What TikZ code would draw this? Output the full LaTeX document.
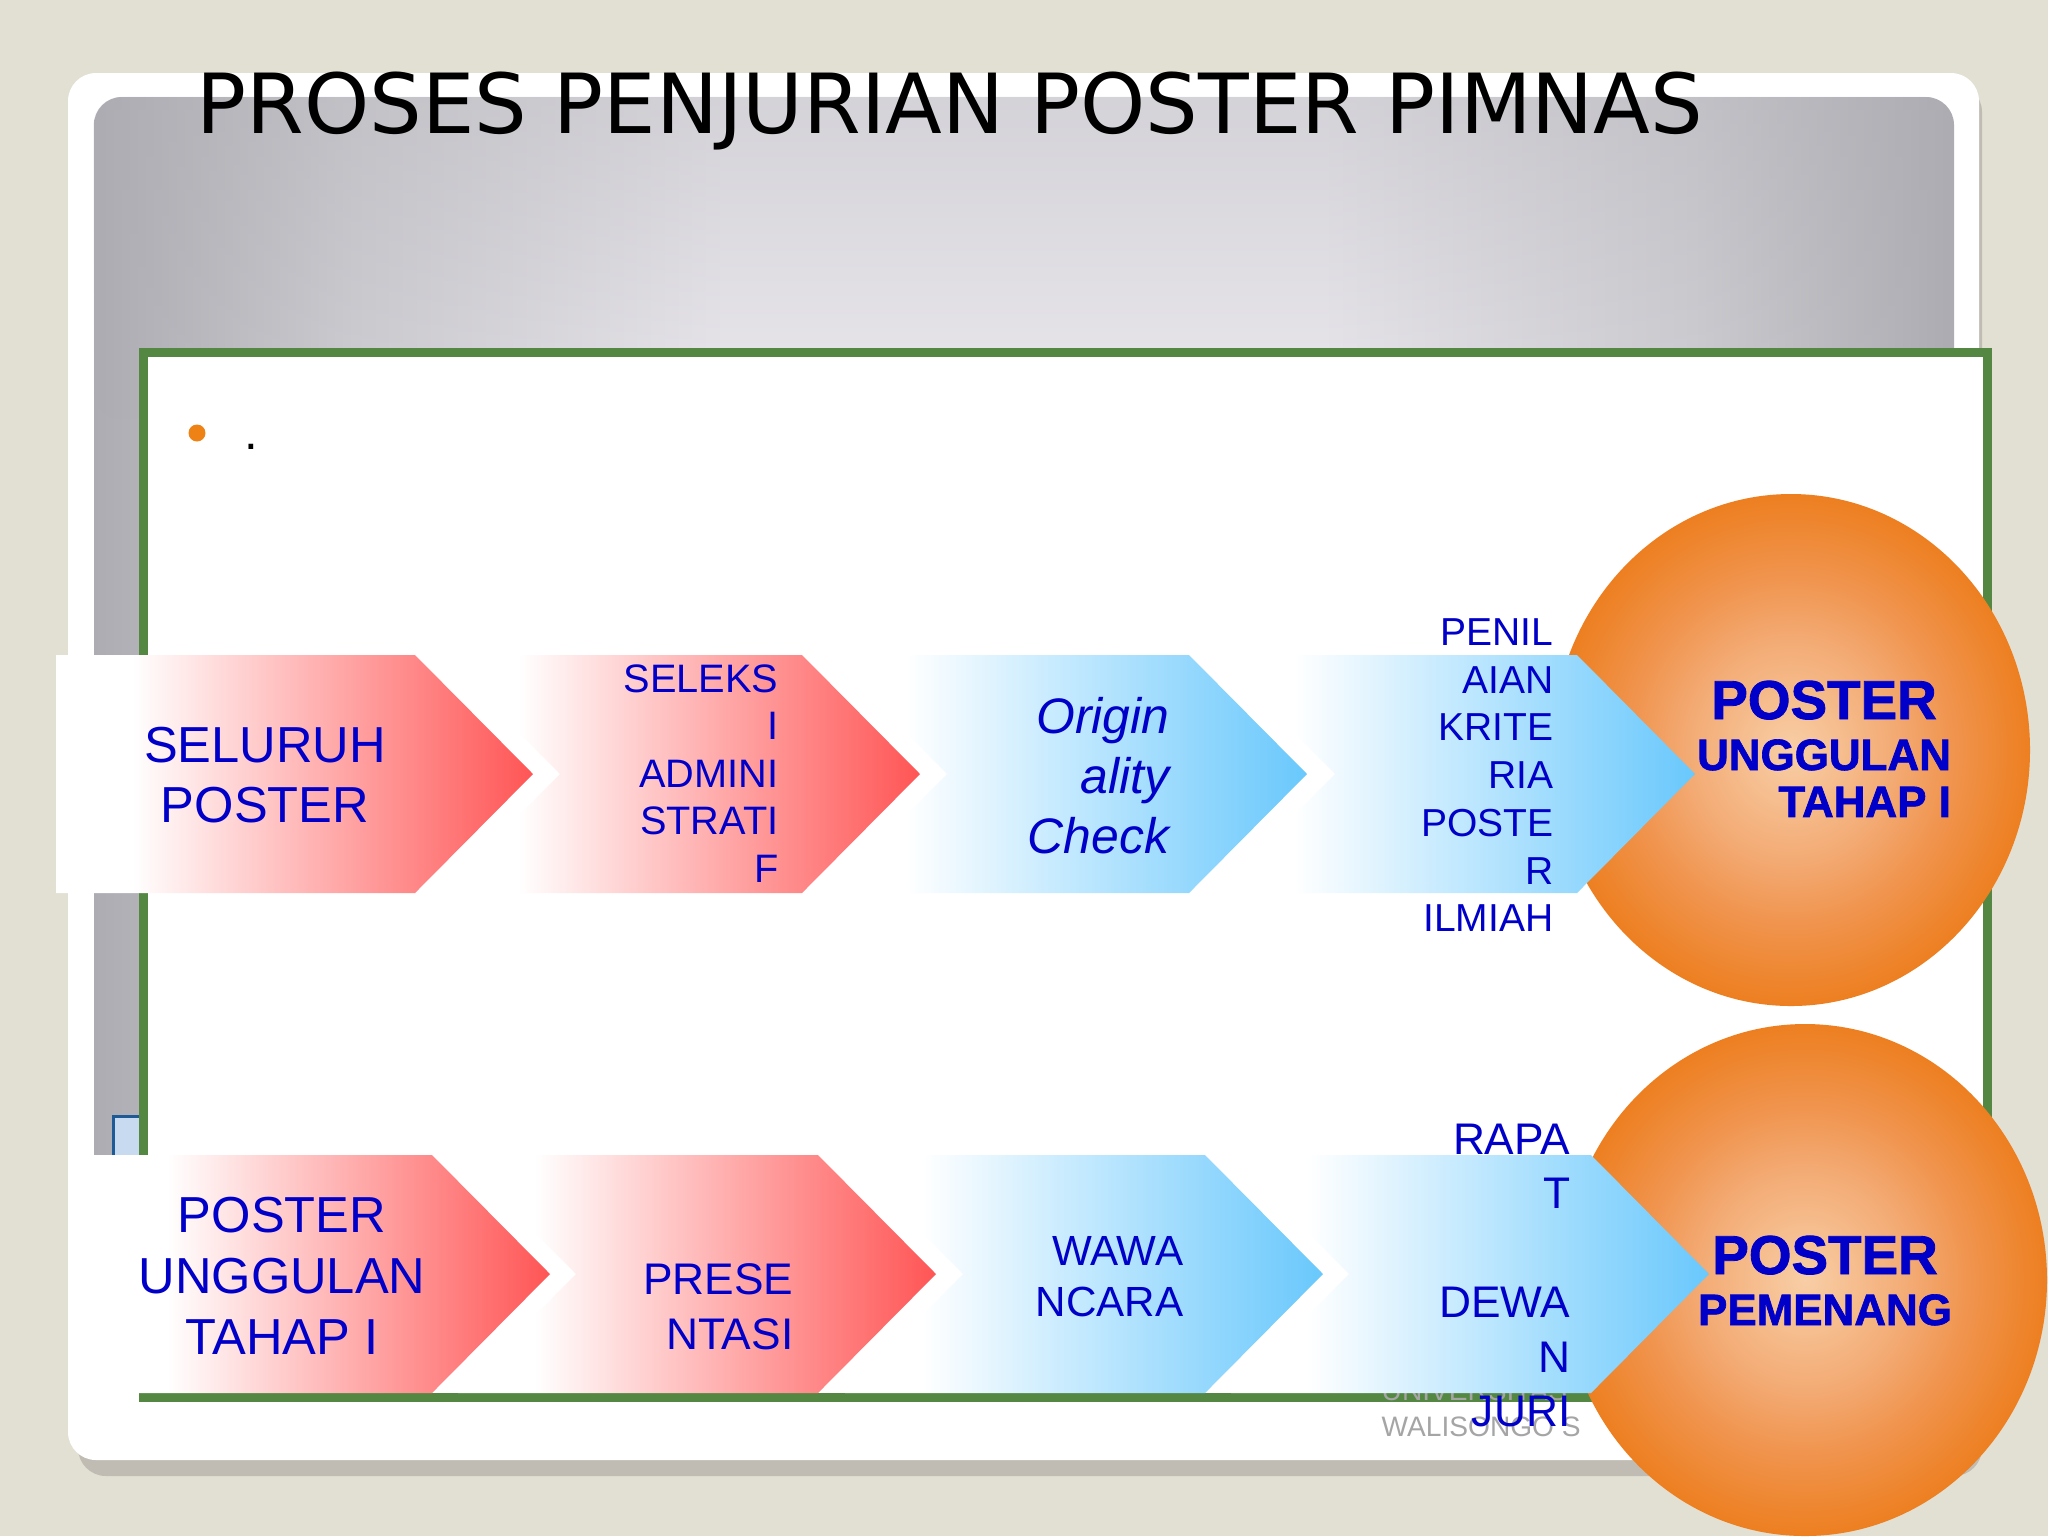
\documentclass[tikz,border=0pt]{standalone}
\usepackage{fontspec}
\setmainfont{Liberation Sans}
\newfontfamily\titlefont{DejaVu Sans}
\newfontfamily\heavyfont[FakeBold=1.5]{Liberation Sans Bold}
\usetikzlibrary{shapes.geometric,fadings}

\definecolor{slidebg}{RGB}{226,223,211}
\definecolor{shadowgray}{RGB}{192,188,179}
\definecolor{paneldark}{RGB}{172,172,178}
\definecolor{panelmid}{RGB}{206,205,210}
\definecolor{panellight}{RGB}{234,232,237}
\definecolor{framegreen}{RGB}{84,136,66}
\definecolor{bulletorange}{RGB}{238,130,20}
\definecolor{chevred}{RGB}{255,85,85}
\definecolor{chevblue}{RGB}{105,200,252}
\definecolor{txtblue}{RGB}{0,0,200}
\definecolor{orbcore}{RGB}{248,206,166}
\definecolor{orbmid}{RGB}{243,170,115}
\definecolor{orbring}{RGB}{240,148,78}
\definecolor{orbedge}{RGB}{237,127,32}
\definecolor{boxblue}{RGB}{200,218,240}
\definecolor{boxedge}{RGB}{30,90,150}
\definecolor{markgray}{RGB}{165,165,165}

\pgfdeclarehorizontalshading{redfade}{100bp}{color(0bp)=(white); color(33bp)=(white); color(75bp)=(chevred); color(100bp)=(chevred)}
\pgfdeclarehorizontalshading{bluefade}{100bp}{color(0bp)=(white); color(33bp)=(white); color(75bp)=(chevblue); color(100bp)=(chevblue)}
\pgfdeclarehorizontalshading{panelshade}{100bp}{color(0bp)=(paneldark); color(25bp)=(paneldark); color(32bp)=(panelmid); color(42bp)=(panellight); color(58bp)=(panellight); color(68bp)=(panelmid); color(75bp)=(paneldark); color(100bp)=(paneldark)}
\pgfdeclareradialshading{orbshade}{\pgfpoint{0bp}{0bp}}{color(0bp)=(orbcore); color(11bp)=(orbmid); color(17bp)=(orbring); color(25bp)=(orbedge); color(50bp)=(orbedge)}
\tikzfading[name=panelfade, top color=transparent!0, bottom color=transparent!100]

\begin{document}
\begin{tikzpicture}[
  x=0.1mm, y=-0.1mm,
  lbl/.style={text=txtblue, inner sep=0pt},
  orb/.style={ellipse, shade, shading=orbshade, inner sep=0pt},
  orbtext/.style={text=txtblue, inner sep=0pt, align=center, font=\heavyfont\fontsize{12.5}{13.37}\selectfont}
]
\useasboundingbox (0,0) rectangle (2048,1536);
\clip (0,0) rectangle (2048,1536);

% slide
\fill[slidebg] (0,0) rectangle (2048,1536);
\fill[shadowgray, rounded corners=2.8mm] (78,84) rectangle (1982,1476);
\fill[white, rounded corners=2.8mm] (68,73) rectangle (1979,1460);
\shade[shading=panelshade, rounded corners=2.8mm] (94,97) rectangle (1954,1380);
\fill[paneldark, fill opacity=0.35, path fading=panelfade, rounded corners=2.8mm] (94,97) rectangle (1954,420);
\draw[boxedge, fill=boxblue, line width=0.3mm] (113,1116) rectangle (141,1220);
\draw[framegreen, line width=0.9mm, fill=white] (143.5,352.5) rectangle (1987.5,1397);

\node[inner sep=0pt, anchor=base west, font=\titlefont\fontsize{23.6}{27}\selectfont] (title) at (196,133) {PROSES PENJURIAN POSTER PIMNAS};
\node[circle, fill=bulletorange, minimum size=1.7mm, inner sep=0pt] (bullet) at (197,433) {};
\node[inner sep=0pt, anchor=base, font=\fontsize{14}{16}\selectfont] (dot) at (251,449) {.};

\node[inner sep=0pt, anchor=north west, align=left, text=markgray, font=\fontsize{8}{10.2}\selectfont] (mark) at (1381,1380) {UNIVERSITAS\\WALISONGO S};

% results
\node[orb, minimum width=47.8mm, minimum height=51.2mm] (stageone) at (1791,750) {};
\node[orb, minimum width=48.4mm, minimum height=51.2mm] (winner) at (1805,1280) {};

% top row
\shade[shading=redfade] (56,655) -- (415,655) -- (533,774) -- (415,893) -- (56,893) -- cycle;
\shade[shading=redfade] (442,655) -- (802,655) -- (920,774) -- (802,893) -- (442,893) -- (560,774) -- cycle;
\shade[shading=bluefade] (829,655) -- (1189,655) -- (1307,774) -- (1189,893) -- (829,893) -- (947,774) -- cycle;
\shade[shading=bluefade] (1217,655) -- (1577,655) -- (1695,774) -- (1577,893) -- (1217,893) -- (1335,774) -- cycle;

% bottom row
\shade[shading=redfade] (94,1155) -- (432,1155) -- (550,1274) -- (432,1393) -- (94,1393) -- cycle;
\shade[shading=redfade] (458,1155) -- (818,1155) -- (936,1274) -- (818,1393) -- (458,1393) -- (576,1274) -- cycle;
\shade[shading=bluefade] (845,1155) -- (1205,1155) -- (1323,1274) -- (1205,1393) -- (845,1393) -- (963,1274) -- cycle;
\shade[shading=bluefade] (1231,1155) -- (1591,1155) -- (1709,1274) -- (1591,1393) -- (1231,1393) -- (1349,1274) -- cycle;

% labels
\node[lbl, anchor=north, align=center, font=\fontsize{14.4}{17.07}\selectfont] (allposter) at (265,726) {SELURUH\\POSTER};
\node[lbl, anchor=north east, align=right, font=\fontsize{11.3}{13.5}\selectfont] (admin) at (779,664) {SELEKS\\I\\ADMINI\\STRATI\\F};
\node[lbl, anchor=north east, align=right, font=\itshape\fontsize{14.2}{17.07}\selectfont] (orig) at (1170,697) {Origin\\ality\\Check};
\node[lbl, anchor=north east, align=right, font=\fontsize{11.1}{13.57}\selectfont] (criteria) at (1554,618) {PENIL\\AIAN\\KRITE\\RIA\\POSTE\\R\\ILMIAH};

\node[lbl, anchor=north, align=center, font=\fontsize{14.4}{17.35}\selectfont] (shortlist) at (282,1196) {POSTER\\UNGGULAN\\TAHAP I};
\node[lbl, anchor=north east, align=right, font=\fontsize{12.6}{15.65}\selectfont] (present) at (794,1263) {PRESE\\NTASI};
\node[lbl, anchor=north east, align=right, font=\fontsize{12}{14.5}\selectfont] (interview) at (1184,1236) {WAWA\\NCARA};
\node[lbl, anchor=north east, align=right, font=\fontsize{12.6}{15.5}\selectfont] (jury) at (1571,1123) {RAPA\\T\\\mbox{}\\DEWA\\N\\JURI};

\node[orbtext, anchor=north] (stageonetext) at (1824,680) {{\fontsize{15.6}{13.37}\selectfont POSTER}\\[1.14pt]UNGGULAN\\\makebox[72.2pt][r]{TAHAP I}};
\node[orbtext, anchor=north] (winnertext) at (1825,1235) {{\fontsize{15.6}{13.37}\selectfont POSTER}\\[1.14pt]PEMENANG};
\end{tikzpicture}
\end{document}
